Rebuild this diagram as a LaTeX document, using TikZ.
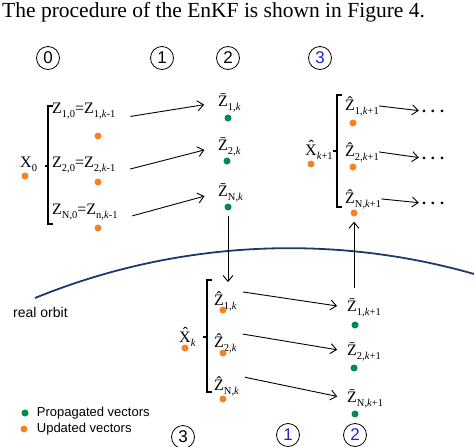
\documentclass[tikz,border=0pt]{standalone}
\usepackage{fontspec}
\setmainfont{Liberation Serif}
\newfontfamily\arialf{Liberation Sans}
\usepackage{tikz}
\usetikzlibrary{arrows.meta,positioning}
\usepackage{xcolor}
\definecolor{enkfgreen}{RGB}{0,140,70}
\definecolor{enkforange}{RGB}{245,130,35}
\definecolor{enkfblue}{RGB}{35,35,210}
\definecolor{orbitblue}{RGB}{30,55,110}
\newcommand{\sbs}[1]{\raisebox{-4pt}{\fontsize{10.5}{11}\selectfont #1}}
\newcommand{\kk}{\textit{k}}
\tikzstyle{vecnode} = [inner sep=0pt, anchor=base west, font=\fontsize{16}{18}\selectfont]
\tikzstyle{prop} = [circle, fill=enkfgreen, inner sep=0pt, minimum size=7pt]
\tikzstyle{upd} = [circle, fill=enkforange, inner sep=0pt, minimum size=7pt]
\tikzstyle{stepnum} = [circle, draw, line width=0.8pt, minimum size=23pt, inner sep=0pt, font=\arialf\fontsize{17}{17}\selectfont]
\tikzstyle{arrow} = [line width=0.9pt,-{Straight Barb[length=6pt,width=10pt]}]
\tikzstyle{brack} = [line width=1.1pt]
\tikzstyle{sanslbl} = [inner sep=0pt, anchor=west, font=\arialf\fontsize{13}{15}\selectfont]

\begin{document}
\begin{tikzpicture}[x=1pt,y=-1pt]
\useasboundingbox (0,0) rectangle (474,447);

% Title line
\node[inner sep=0pt, anchor=base west, font=\fontsize{21.5}{24}\selectfont] (title) at (2,17) {The procedure of the EnKF is shown in Figure 4.};

% Step numbers
\node[stepnum] (s0) at (48,58) {0};
\node[stepnum] (s1) at (162,58) {1};
\node[stepnum] (s2) at (228,58) {2};
\node[stepnum, text=enkfblue] (s3) at (320,58) {3};
\node[stepnum] (b3) at (183,437) {3};
\node[stepnum, text=enkfblue] (b1) at (288,435) {1};
\node[stepnum, text=enkfblue] (b2) at (355,435) {2};

% Initial ensemble
\node[vecnode] (x0) at (20,167) {X\sbs{0}};
\node[upd] (ox0) at (25,176) {};
\node[vecnode] (z10) at (52,113) {Z\sbs{1,0}=Z\sbs{1,\kk-1}};
\node[vecnode] (z20) at (52,167) {Z\sbs{2,0}=Z\sbs{2,\kk-1}};
\node[vecnode] (zN0) at (52,214) {Z\sbs{N,0}=Z\sbs{n,\kk-1}};
\node[upd] (o10) at (98,136) {};
\node[upd] (o20) at (98,182) {};
\node[upd] (oN0) at (98,228) {};
\draw[brack] (53,106) -- (48,106) -- (48,224) -- (53,224);
\draw[brack] (45,166) -- (48,166);

% Propagated at k
\node[vecnode] (zb1) at (218,106) {\={Z}\sbs{1,\kk}};
\node[vecnode] (zb2) at (218,150) {\={Z}\sbs{2,\kk}};
\node[vecnode] (zbN) at (218,196) {\={Z}\sbs{N,\kk}};
\node[prop] (g1k) at (228,118) {};
\node[prop] (g2k) at (227,161) {};
\node[prop] (gNk) at (228,207) {};

\draw[arrow, shorten <=15pt, shorten >=14pt] (z10.south east) -- (zb1.west);
\draw[arrow, shorten <=15pt, shorten >=14pt] (z20.south east) -- (zb2.west);
\draw[arrow, shorten <=15pt, shorten >=14pt] (zN0.south east) -- (zbN.west);

% Real orbit
\draw[orbitblue, line width=1.8pt] (35,298) arc[start angle=-112.17, end angle=-74.09, radius=674];
\node[sanslbl, font=\arialf\fontsize{14}{16}\selectfont, anchor=base west] (orbit) at (13,317) {real orbit};

% Updated at k
\node[vecnode] (xk) at (179,342) {\^{X}\sbs{\kk}};
\node[upd] (oxk) at (185,348) {};
\node[vecnode] (zh1k) at (214,305) {\^{Z}\sbs{1,\kk}};
\node[vecnode] (zh2k) at (214,347) {\^{Z}\sbs{2,\kk}};
\node[vecnode] (zhNk) at (214,390) {\^{Z}\sbs{N,\kk}};
\node[upd] (o1k) at (223,310) {};
\node[upd] (o2k) at (223,353) {};
\node[upd] (oNk) at (223,399) {};
\draw[brack] (212,280) -- (207,280) -- (207,392) -- (212,392);
\draw[brack] (203,337) -- (207,337);

\draw[arrow, shorten <=5pt, shorten >=9pt] (gNk) -- (zh1k.north -| gNk);

% Propagated at k+1
\node[vecnode] (zbb1) at (347,311) {\={Z}\sbs{1,\kk+1}};
\node[vecnode] (zbb2) at (347,355) {\={Z}\sbs{2,\kk+1}};
\node[vecnode] (zbbN) at (347,402) {\={Z}\sbs{N,\kk+1}};
\node[prop] (g1p) at (355,325) {};
\node[prop] (g2p) at (354,368) {};
\node[prop] (gNp) at (355,414) {};

\draw[arrow, shorten <=6pt, shorten >=10pt] (zh1k.north east) -- (zbb1.west);
\draw[arrow, shorten <=6pt, shorten >=10pt] (zh2k.north east) -- (zbb2.west);
\draw[arrow, shorten <=6pt, shorten >=10pt] (zhNk.north east) -- (zbbN.west);

% Updated at k+1
\node[vecnode] (xk1) at (305,155) {\^{X}\sbs{\kk+1}};
\node[upd] (oxk1) at (311,164) {};
\node[vecnode] (zh1p) at (345,110) {\^{Z}\sbs{1,\kk+1}};
\node[vecnode] (zh2p) at (345,156) {\^{Z}\sbs{2,\kk+1}};
\node[vecnode] (zhNp) at (345,203) {\^{Z}\sbs{N,\kk+1}};
\node[upd] (o1p) at (353,123) {};
\node[upd] (o2p) at (353,167) {};
\node[upd] (oNp) at (354,213) {};
\draw[brack] (342,95) -- (337,95) -- (337,207) -- (342,207);
\draw[brack] (333,151) -- (337,151);

\draw[arrow, shorten <=10pt, shorten >=5pt] (zbb1.north -| oNp) -- (oNp);

% Continuation
\node[vecnode, anchor=center] (more1) at (433,111) {\textbf{.\hspace{5pt}.\hspace{5pt}.}};
\node[vecnode, anchor=center] (more2) at (433,158) {\textbf{.\hspace{5pt}.\hspace{5pt}.}};
\node[vecnode, anchor=center] (moreN) at (433,203) {\textbf{.\hspace{5pt}.\hspace{5pt}.}};
\draw[arrow, shorten >=3pt] (zh1p.east) -- (more1.west);
\draw[arrow, shorten >=3pt] (zh2p.east) -- (more2.west);
\draw[arrow, shorten >=3pt] (zhNp.east) -- (moreN.west);

% Legend
\node[prop] (legG) at (25,413) {};
\node[upd] (legO) at (24,429) {};
\node[sanslbl, right=8pt of legG] (legGt) {Propagated vectors};
\node[sanslbl, right=9pt of legO] (legOt) {Updated vectors};
\end{tikzpicture}
\end{document}
